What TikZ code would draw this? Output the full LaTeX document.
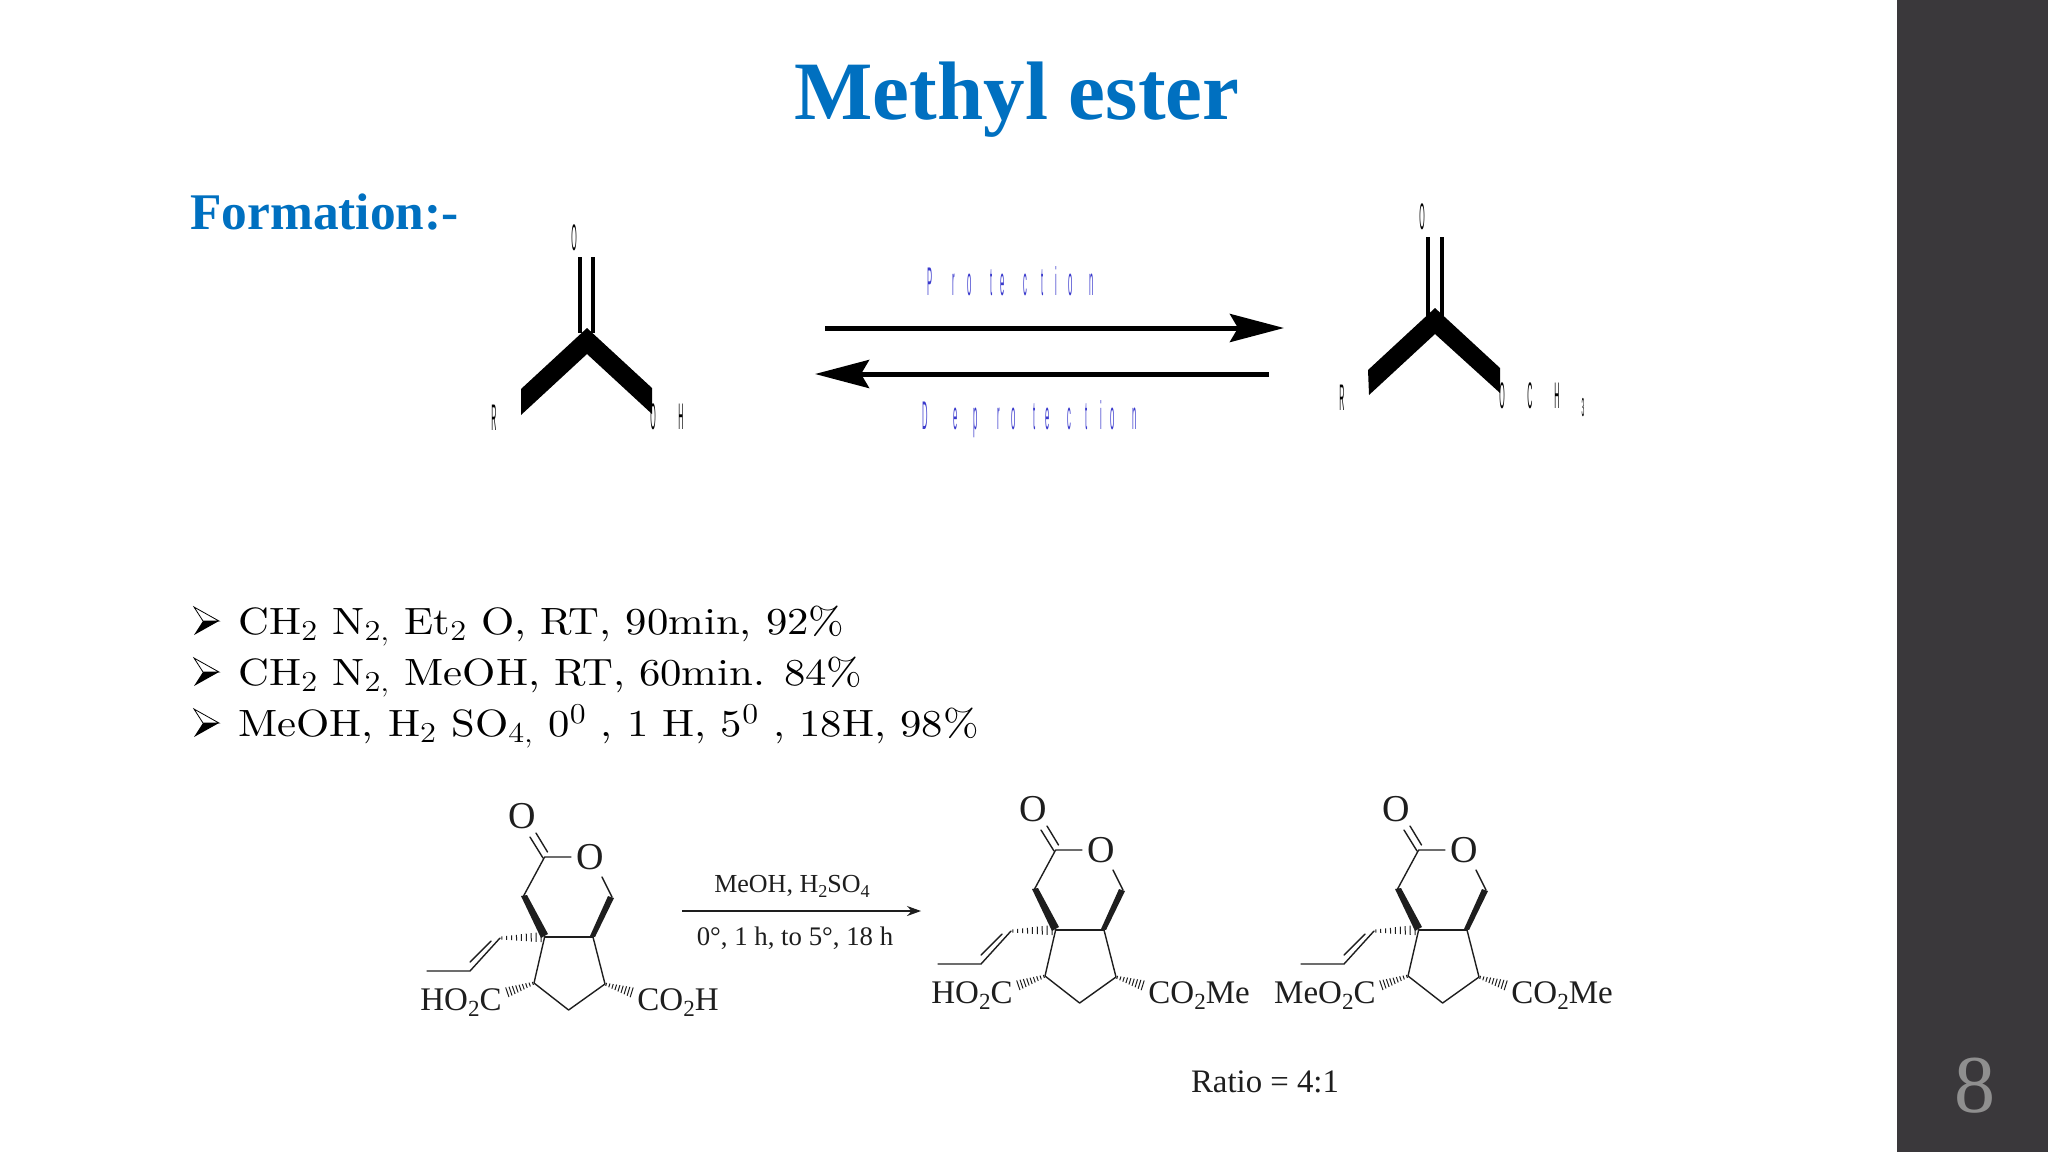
\documentclass[tikz,border=0pt]{standalone}
\usepackage{graphicx}
\usepackage{fontspec}
\usetikzlibrary{arrows.meta, calc}
\newfontfamily\timesfont{Liberation Serif}
\newfontfamily\arialfont{Liberation Sans}
\newfontfamily\lmten{lmroman10-regular.otf}
\definecolor{titleblue}{HTML}{0070C0}
\definecolor{sidebar}{HTML}{3A383B}
\definecolor{pagenum}{HTML}{8F8F8F}
\definecolor{reagent}{HTML}{3A3ACC}
\definecolor{inkgray}{HTML}{1E1E1E}
\newcommand{\squeeze}[1]{\scalebox{0.19}[1]{#1}}
\newcommand{\sub}[1]{\raisebox{-0.45ex}{\scalebox{0.7}{#1}}}
\newcommand{\widen}[1]{\scalebox{1.125}[1]{#1}}
\tikzset{
	atomlabel/.style={anchor=base, inner sep=0pt, font=\arialfont\fontsize{18.5}{19}\selectfont, text=black},
	reactlabel/.style={anchor=base, inner sep=0pt, font=\arialfont\fontsize{20}{21}\selectfont, text=reagent},
	bullettext/.style={anchor=base west, inner sep=0pt, font=\lmten\fontsize{19}{20}\selectfont},
	chemtext/.style={inner sep=0pt, font=\timesfont\fontsize{16.5}{17}\selectfont, text=inkgray},
	chematom/.style={inner sep=2.5pt, font=\timesfont\fontsize{19}{20}\selectfont, text=inkgray, anchor=center},
	bond/.style={inkgray, line width=0.7pt, line cap=round, line join=round},
	eqarrow/.style={line width=2.5pt, -{Stealth[length=27pt, width=14pt, inset=4pt]}},
}
% hashed bond, growing towards the second point
\newcommand{\hashbond}[2]{
	\foreach \t in {0.04,0.15,...,0.96}
		\draw[inkgray, line width=0.5pt]
		($(#1)!\t!(#2)!{0.7pt+\t*2pt}!90:(#2)$) -- ($(#1)!\t!(#2)!{0.7pt+\t*2pt}!-90:(#2)$);
}
% skeleton of the lactone: #1 prefix, #2 left label, #3 right label
\newcommand{\lactone}[3]{
	\coordinate (#1co) at (544.6,857);
	\coordinate (#1cl) at (523,897);
	\coordinate (#1fl) at (544.6,937);
	\coordinate (#1fr) at (593,937);
	\coordinate (#1cb) at (534,983);
	\coordinate (#1cm) at (568.6,1010);
	\coordinate (#1cc) at (605,984);
	\coordinate (#1vi) at (500,938);
	\coordinate (#1vj) at (470,971);
	\coordinate (#1vk) at (427,971);
	\coordinate (#1hl) at (505,993);
	\coordinate (#1hr) at (634,993);
	\node[chematom] (#1otop) at (522,816) {O};
	\node[chematom] (#1oring) at (590,857) {O};
	\node[chemtext, anchor=base east] (#1left) at (502,1010) {#2};
	\node[chemtext, anchor=base west] (#1right) at (637,1010) {#3};
	% lactone ring
	\draw[bond] (530,837) -- (543,858);
	\draw[bond] (536,833) -- (547.5,852);
	\draw[bond] (#1oring) -- (#1co) -- (#1cl);
	\draw[bond] (602,877) -- (612,897);
	\fill[inkgray] (#1cl) ++(-2,-1) -- ++(6,-1) -- (548,934) -- (541,938) -- cycle;
	\fill[inkgray] (608,896) -- (614,898) -- (595,937) -- (590,936) -- cycle;
	% five-membered ring
	\draw[bond, line width=0.9pt] (#1fl) -- (#1fr);
	\draw[bond] (#1fl) -- (#1cb) -- (#1cm) -- (#1cc) -- (#1fr);
	% vinyl
	\hashbond{#1vi}{#1fl}
	\draw[bond] (#1vi) -- (#1vj) -- (#1vk);
	\draw[bond] (491,941) -- (470,962);
	% side chains
	\hashbond{#1cb}{#1hl}
	\hashbond{#1cc}{#1hr}
}

\begin{document}
\begin{tikzpicture}[x=0.5pt, y=-0.5pt]
	\useasboundingbox (0,0) rectangle (2048,1152);
	
	%========================
	% Slide frame
	%========================
	\fill[sidebar] (1897,0) rectangle (2048,1152);
	\node[inner sep=0pt, text=pagenum, font=\timesfont\fontsize{41}{42}\selectfont] (pageno) at (1975,1086) {8};
	\node[anchor=base, inner sep=0pt, text=titleblue, font=\timesfont\bfseries\fontsize{41.5}{42}\selectfont] (title) at (1017,119) {Methyl ester};
	\node[anchor=base west, inner sep=0pt, text=titleblue, font=\timesfont\bfseries\fontsize{25.7}{26}\selectfont] (formation) at (190,229) {Formation:-};
	
	%========================
	% Acid
	%========================
	\node[atomlabel] (acido) at (574,250) {\squeeze{O}};
	\draw[line width=2pt] (580,257) -- (580,333);
	\draw[line width=2pt] (593,257) -- (593,333);
	\fill (587,328) -- (652,388) -- (652,414) -- (587,354) -- (521,415) -- (521,389) -- cycle;
	\node[atomlabel] (acidr) at (494,430) {\squeeze{R}};
	\node[atomlabel] (acidoh) at (653,429) {\squeeze{O}};
	\node[atomlabel] (acidh) at (681,429) {\squeeze{H}};
	
	%========================
	% Equilibrium arrows
	%========================
	\coordinate (fwdstart) at (825,328);
	\coordinate (fwdend) at (1284,328);
	\coordinate (revstart) at (1269,374);
	\coordinate (revend) at (815,374);
	\draw[eqarrow] (fwdstart) -- (fwdend);
	\draw[eqarrow] (revstart) -- (revend);
	\foreach \px/\ch [count=\i] in {930/P,954/r,970/o,992/t,1003/e,1025/c,1043/t,1056/i,1071/o,1092/n}
		\node[reactlabel] (prot\i) at (\px,295) {\squeeze{\ch}};
	\foreach \px/\ch [count=\i] in {925/D,956/e,976/p,999/r,1014/o,1035/t,1048/e,1069/c,1087/t,1101/i,1113/o,1135/n}
		\node[reactlabel] (deprot\i) at (\px,429) {\squeeze{\ch}};
	
	%========================
	% Methyl ester
	%========================
	\node[atomlabel] (estero) at (1422,229) {\squeeze{O}};
	\draw[line width=2pt] (1428,237) -- (1428,317);
	\draw[line width=2pt] (1442,237) -- (1442,317);
	\fill (1435,308) -- (1500,368) -- (1500,393) -- (1435,334) -- (1369,395) -- (1368,370) -- cycle;
	\node[atomlabel] (esterr) at (1342,410) {\squeeze{R}};
	\node[atomlabel] (estero2) at (1502,408) {\squeeze{O}};
	\node[atomlabel] (esterc) at (1530,408) {\squeeze{C}};
	\node[atomlabel] (esterh) at (1557,408) {\squeeze{H}};
	\node[atomlabel, font=\arialfont\fontsize{13}{14}\selectfont] (ester3) at (1583,416) {\squeeze{3}};
	
	%========================
	% Conditions
	%========================
	\foreach \by in {635,686,737} {
		\draw[line width=0.4pt] (194,\by-28) -- (219,\by-14) -- (203,\by-14) -- cycle;
		\fill (194,\by) -- (219,\by-14) -- (203,\by-14) -- cycle;
	}
	\node[bullettext] (cond1) at (238,634) {\widen{CH$_2$ N$_{2,}$ Et$_2$ O, RT, 90min, 92\%}};
	\node[bullettext] (cond2) at (238,685) {\widen{CH$_2$ N$_{2,}$ MeOH, RT, 60min. 84\%}};
	\node[bullettext] (cond3) at (238,736) {\widen{MeOH, H$_2$ SO$_{4,}$ 0$^0$ , 1 H, 5$^0$ , 18H, 98\%}};
	
	%========================
	% Scheme
	%========================
	\lactone{a}{HO\sub{2}C}{CO\sub{2}H}
	\node[chemtext, anchor=base, font=\timesfont\fontsize{13}{14}\selectfont] (reagents) at (792,892) {MeOH, H\sub{2}SO\sub{4}};
	\node[chemtext, anchor=base, font=\timesfont\fontsize{13.4}{14}\selectfont] (temps) at (795,945) {0°, 1 h, to 5°, 18 h};
	\coordinate (rxnstart) at (682,911);
	\coordinate (rxnend) at (921,911);
	\draw[inkgray, line width=0.6pt, -{Stealth[length=7pt, width=5pt]}] (rxnstart) -- (rxnend);
	\begin{scope}[shift={(511,-7)}]
		\lactone{b}{HO\sub{2}C}{CO\sub{2}Me}
	\end{scope}
	\begin{scope}[shift={(874,-7)}]
		\lactone{c}{MeO\sub{2}C}{CO\sub{2}Me}
	\end{scope}
	\node[chemtext, anchor=base, font=\timesfont\fontsize{16.4}{17}\selectfont] (ratio) at (1265,1092) {Ratio = 4:1};
\end{tikzpicture}
\end{document}
